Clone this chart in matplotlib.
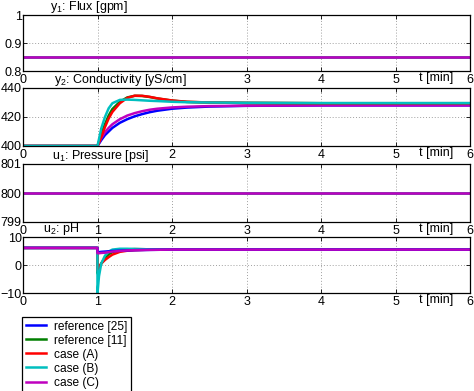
import matplotlib
matplotlib.use("Agg")
import matplotlib.pyplot as plt

plt.rcParams['font.family'] = ['Liberation Sans', 'DejaVu Sans']
plt.rcParams['mathtext.fontset'] = 'custom'
plt.rcParams['mathtext.rm'] = 'Liberation Sans'
plt.rcParams['mathtext.it'] = 'Liberation Sans'
plt.rcParams['mathtext.default'] = 'regular'

# ---------------- data ----------------
series_names = ['reference [25]', 'reference [11]', 'case (A)', 'case (B)', 'case (C)']
series_colors = ['#0000ff', '#007f00', '#ff0000', '#00bfbf', '#bf00bf']

t_flat = [0, 6]
flux_values = [0.85, 0.85]
pressure_values = [800, 800]

# y2: conductivity
t_cond = [0, 1.0, 1.05, 1.1, 1.15, 1.2, 1.3, 1.4, 1.5, 1.6, 1.7, 1.8, 2.0, 2.2, 2.5, 3.0, 4.0, 6.0]
cond_ref25 = [400, 400, 404, 407.5, 410, 412.5, 416, 418.5, 420.5, 422, 423.3, 424.3, 425.7, 426.5, 427.2, 427.7, 428, 428]
cond_ref11 = [400, 400, 408, 415, 421, 425.5, 430.5, 433.5, 434.6, 434.5, 433.8, 432.8, 431.3, 430.4, 430, 429.7, 429.5, 429.5]
cond_caseA = [400, 400, 406, 413, 419, 423.5, 429.5, 433.2, 434.7, 434.6, 433.9, 432.9, 431.4, 430.5, 430, 429.7, 429.5, 429.5]
cond_caseB = [400, 400, 412, 420, 426, 429.5, 431.8, 432, 431.8, 431.5, 431.2, 431, 430.5, 430.2, 430, 429.8, 429.6, 429.6]
cond_caseC = [400, 400, 405.5, 409.5, 412.5, 415, 418.5, 421, 422.7, 424, 425, 425.7, 426.6, 427.1, 427.5, 427.8, 428, 428]

# u2: pH
t_ph = [0, 0.999, 1.0, 1.02, 1.05, 1.1, 1.15, 1.2, 1.3, 1.4, 1.5, 1.7, 2.0, 3.0, 6.0]
ph_ref25 = [6.1, 6.1, 4.6, 4.6, 4.7, 4.8, 4.9, 5.0, 5.1, 5.2, 5.3, 5.4, 5.5, 5.5, 5.5]
ph_ref11 = [6.1, 6.1, -3.0, -1.5, 0.5, 2.5, 3.8, 4.6, 5.3, 5.6, 5.7, 5.6, 5.5, 5.5, 5.5]
ph_caseA = [6.1, 6.1, -2.0, -0.5, 0.5, 1.8, 2.8, 3.7, 4.7, 5.1, 5.3, 5.5, 5.5, 5.5, 5.5]
ph_caseB = [6.1, 6.1, -10.0, -4.0, 0.5, 3.3, 4.8, 5.5, 5.8, 5.8, 5.7, 5.6, 5.5, 5.5, 5.5]
ph_caseC = [6.1, 6.1, 4.2, 4.2, 4.3, 4.4, 4.6, 4.8, 5.0, 5.2, 5.3, 5.4, 5.5, 5.5, 5.5]

panel_titles = ['y$_1$: Flux [gpm]', 'y$_2$: Conductivity [yS/cm]',
                'u$_1$: Pressure [psi]', 'u$_2$: pH']
x_ticks = [0, 1, 2, 3, 4, 5, 6]
# tick labels per panel (labels hidden under the next panel's title are blank, as in the source)
x_ticklabels = [['0', '', '', '3', '4', '5', '6'],
                ['0', '', '2', '3', '4', '5', '6'],
                ['0', '1', '2', '3', '4', '5', '6'],
                ['0', '1', '2', '3', '4', '5', '6']]
y_ticks = [[0.8, 0.9, 1.0], [400, 420, 440], [799, 800, 801], [-10, 0, 10]]
y_ticklabels = [['0.8', '0.9', '1'], ['400', '420', '440'], ['799', '800', '801'], ['\u221210', '0', '10']]
y_limits = [(0.8, 1.0), (400, 440), (799, 801), (-10, 10)]
x_label = 't [min]'

# ---------------- layout ----------------
W, H = 474, 391
fig = plt.figure(figsize=(W / 100, H / 100), dpi=100)
left = 23 / W
width = (470 - 23) / W
panel_px = [(15, 71), (88, 146), (164, 222), (237, 293)]
title_x = [0.06, 0.07, 0.065, 0.045]
fs = 8.6
tfs = 9.0

axes = []
for i, (top, bot) in enumerate(panel_px):
    ax = fig.add_axes([left, 1 - bot / H, width, (bot - top) / H])
    axes.append(ax)

def style(ax, i):
    ax.set_xlim(0, 6)
    ax.set_ylim(*y_limits[i])
    ax.set_xticks(x_ticks)
    ax.set_xticklabels(x_ticklabels[i])
    ax.set_yticks(y_ticks[i])
    ax.set_yticklabels(y_ticklabels[i])
    ax.tick_params(direction='in', length=3, width=0.6, labelsize=tfs, pad=2.5,
                   top=True, right=True)
    ax.tick_params(axis='y', pad=1)
    ax.grid(True, linestyle=(0, (1, 2)), color='#a0a0a0', linewidth=0.7)
    for s in ax.spines.values():
        s.set_linewidth(0.9)
    ax.text(0.924, -0.02, x_label, transform=ax.transAxes, ha='center', va='top',
            fontsize=tfs, zorder=10)
    ax.text(title_x[i], 1.0, panel_titles[i], transform=ax.transAxes, ha='left',
            va='bottom', fontsize=tfs, zorder=20, clip_on=False)

lw = 1.8
# panel 1: flux (all series identical)
for c in series_colors:
    axes[0].plot(t_flat, flux_values, color=c, lw=lw)
# panel 2: conductivity
cond_all = [cond_ref25, cond_ref11, cond_caseA, cond_caseB, cond_caseC]
for k in [0, 4, 1, 2, 3]:
    axes[1].plot(t_cond, cond_all[k], color=series_colors[k], lw=lw)
# panel 3: pressure
for c in series_colors:
    axes[2].plot(t_flat, pressure_values, color=c, lw=lw)
# panel 4: pH
ph_all = [ph_ref25, ph_ref11, ph_caseA, ph_caseB, ph_caseC]
for k in [1, 2, 3, 0, 4]:
    axes[3].plot(t_ph, ph_all[k], color=series_colors[k], lw=lw)

for i, ax in enumerate(axes):
    style(ax, i)

handles = [plt.Line2D([], [], color=c, lw=lw) for c in series_colors]
leg = fig.legend(handles, series_names, loc='upper left',
                 bbox_to_anchor=(22 / W, 1 - 317 / H), fontsize=fs,
                 fancybox=False, framealpha=1, edgecolor='black',
                 borderpad=0.3, labelspacing=0.17, handlelength=1.75,
                 handletextpad=0.6, borderaxespad=0)
leg.get_frame().set_linewidth(0.9)

fig.savefig('out.png', dpi=100)
